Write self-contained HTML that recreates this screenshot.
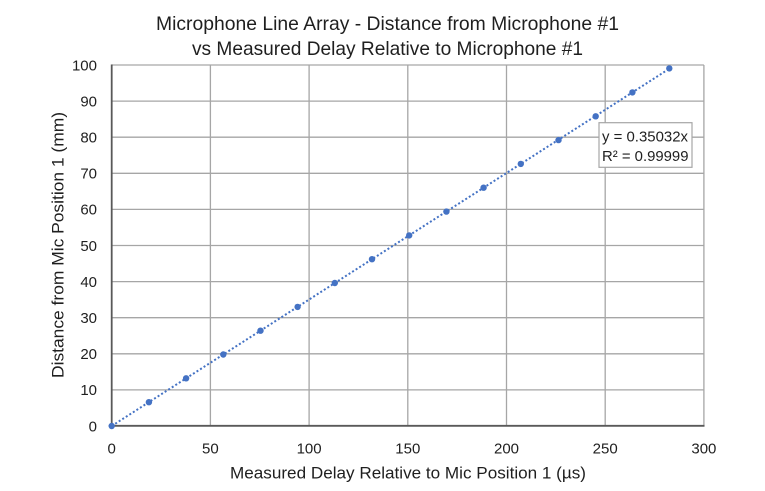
<!DOCTYPE html>
<html>
<head>
<meta charset="utf-8">
<style>
  html,body{margin:0;padding:0;background:#fff;}
  svg{display:block;}
  text{font-family:"Liberation Sans",sans-serif;fill:#1f1f1f;}
</style>
</head>
<body>
<svg width="765" height="491" viewBox="0 0 765 491" xmlns="http://www.w3.org/2000/svg">
  <rect width="765" height="491" fill="#fff"/>
  <!-- Title -->
  <text x="387.5" y="30" font-size="19.5" text-anchor="middle" textLength="463" lengthAdjust="spacingAndGlyphs">Microphone Line Array - Distance from Microphone #1</text>
  <text x="387.5" y="55" font-size="19.5" text-anchor="middle" textLength="391" lengthAdjust="spacingAndGlyphs">vs Measured Delay Relative to Microphone #1</text>

  <!-- Gridlines -->
  <g stroke="#a6a6a6" stroke-width="1.3" fill="none">
    <line x1="111.7" y1="65" x2="703.9" y2="65"/>
    <line x1="111.7" y1="101.1" x2="703.9" y2="101.1"/>
    <line x1="111.7" y1="137.2" x2="703.9" y2="137.2"/>
    <line x1="111.7" y1="173.3" x2="703.9" y2="173.3"/>
    <line x1="111.7" y1="209.4" x2="703.9" y2="209.4"/>
    <line x1="111.7" y1="245.5" x2="703.9" y2="245.5"/>
    <line x1="111.7" y1="281.6" x2="703.9" y2="281.6"/>
    <line x1="111.7" y1="317.7" x2="703.9" y2="317.7"/>
    <line x1="111.7" y1="353.8" x2="703.9" y2="353.8"/>
    <line x1="111.7" y1="389.9" x2="703.9" y2="389.9"/>
    <line x1="210.4" y1="65" x2="210.4" y2="426"/>
    <line x1="309.1" y1="65" x2="309.1" y2="426"/>
    <line x1="407.8" y1="65" x2="407.8" y2="426"/>
    <line x1="506.5" y1="65" x2="506.5" y2="426"/>
    <line x1="605.2" y1="65" x2="605.2" y2="426"/>
    <line x1="703.9" y1="65" x2="703.9" y2="426"/>
  </g>
  <!-- Axes -->
  <g stroke="#595959" stroke-width="1.8">
    <line x1="111.7" y1="64.5" x2="111.7" y2="426.5"/>
    <line x1="111" y1="425.8" x2="704.5" y2="425.8"/>
  </g>

  <!-- Y tick labels -->
  <g font-size="15" text-anchor="end">
    <text x="97" y="431.3">0</text>
    <text x="97" y="395.2">10</text>
    <text x="97" y="359.1">20</text>
    <text x="97" y="323">30</text>
    <text x="97" y="286.9">40</text>
    <text x="97" y="250.8">50</text>
    <text x="97" y="214.7">60</text>
    <text x="97" y="178.6">70</text>
    <text x="97" y="142.5">80</text>
    <text x="97" y="106.4">90</text>
    <text x="97" y="70.3">100</text>
  </g>
  <!-- X tick labels -->
  <g font-size="15" text-anchor="middle">
    <text x="111.7" y="453.5">0</text>
    <text x="210.4" y="453.5">50</text>
    <text x="309.1" y="453.5">100</text>
    <text x="407.8" y="453.5">150</text>
    <text x="506.5" y="453.5">200</text>
    <text x="605.2" y="453.5">250</text>
    <text x="703.9" y="453.5">300</text>
  </g>

  <!-- Axis titles -->
  <text x="408" y="478.5" font-size="17" text-anchor="middle" textLength="356" lengthAdjust="spacingAndGlyphs">Measured Delay Relative to Mic Position 1 (µs)</text>
  <text transform="translate(63.5,245) rotate(-90)" x="0" y="0" font-size="17" text-anchor="middle" textLength="266" lengthAdjust="spacingAndGlyphs">Distance from Mic Position 1 (mm)</text>

  <!-- Trendline -->
  <line x1="111.7" y1="426" x2="669.5" y2="68.6" stroke="#4472c4" stroke-width="2" stroke-dasharray="2 2.2"/>

  <!-- Data points -->
  <g fill="#4472c4">
    <circle cx="111.7" cy="426" r="3.2"/>
    <circle cx="148.9" cy="402.2" r="3.2"/>
    <circle cx="186.1" cy="378.3" r="3.2"/>
    <circle cx="223.3" cy="354.5" r="3.2"/>
    <circle cx="260.5" cy="330.7" r="3.2"/>
    <circle cx="297.6" cy="306.9" r="3.2"/>
    <circle cx="334.8" cy="283.0" r="3.2"/>
    <circle cx="372.0" cy="259.2" r="3.2"/>
    <circle cx="409.2" cy="235.4" r="3.2"/>
    <circle cx="446.4" cy="211.6" r="3.2"/>
    <circle cx="483.6" cy="187.7" r="3.2"/>
    <circle cx="520.8" cy="163.9" r="3.2"/>
    <circle cx="558.5" cy="140.1" r="3.2"/>
    <circle cx="595.7" cy="116.3" r="3.2"/>
    <circle cx="632.4" cy="92.4" r="3.2"/>
    <circle cx="669.3" cy="68.4" r="3.2"/>
  </g>

  <!-- Equation label -->
  <rect x="599" y="122.7" width="93" height="44.6" fill="#fff" stroke="#a6a6a6" stroke-width="1.2"/>
  <text x="602" y="141.5" font-size="15" textLength="86" lengthAdjust="spacingAndGlyphs">y = 0.35032x</text>
  <text x="602" y="161" font-size="15" textLength="86.5" lengthAdjust="spacingAndGlyphs">R² = 0.99999</text>
</svg>
</body>
</html>
